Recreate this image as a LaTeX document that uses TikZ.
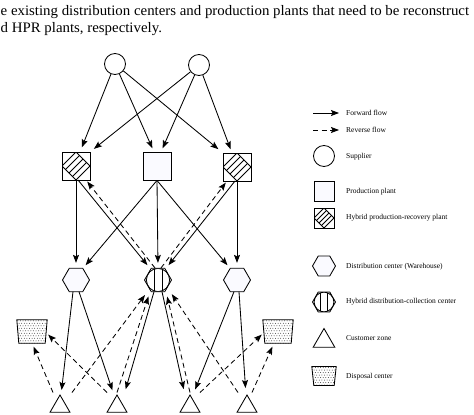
\documentclass[tikz,border=0pt]{standalone}
\usepackage{graphicx}
\usepackage{fontspec}
\setmainfont{Liberation Serif}
\usetikzlibrary{arrows.meta,shapes.geometric,calc}
\begin{document}
\begin{tikzpicture}[x=1pt,y=-1pt,
  lw/.style={line width=0.85pt},
  fwd/.style={lw, -{Stealth[length=8pt,width=6pt,inset=1.5pt]}, shorten >=#1},
  fwd/.default=4pt,
  rev/.style={fwd=#1, dash pattern=on 5pt off 3.5pt},
  rev/.default=4pt,
  supplier/.style={circle, draw, lw, fill=white, minimum size=#1, inner sep=0pt},
  supplier/.default=21pt,
  plant/.style={rectangle, draw, lw, fill=blue!2, minimum size=#1, inner sep=0pt},
  plant/.default=28pt,
  hpr/.style={plant=#1, fill=white, path picture={
    \draw[lw] (path picture bounding box.north) -- (path picture bounding box.east)
      -- (path picture bounding box.south) -- (path picture bounding box.west) -- cycle;
    \foreach \t in {0.25,0.5,0.75}{
      \draw[lw] ($(path picture bounding box.north)!\t!(path picture bounding box.east)$)
        -- ($(path picture bounding box.west)!\t!(path picture bounding box.south)$);}
  }},
  hpr/.default=28pt,
  dc/.style={regular polygon, regular polygon sides=6, draw, lw, fill=blue!2, minimum size=#1, inner sep=0pt},
  dc/.default=27pt,
  hdc/.style={dc=#1, fill=white, path picture={
    \draw[lw] (path picture bounding box.center) circle[radius={0.43*#1}];
    \draw[lw] ([xshift={-0.15*#1},yshift={-0.40*#1}]path picture bounding box.center)
      -- ([xshift={-0.15*#1},yshift={0.40*#1}]path picture bounding box.center);
    \draw[lw] ([xshift={0.15*#1},yshift={-0.40*#1}]path picture bounding box.center)
      -- ([xshift={0.15*#1},yshift={0.40*#1}]path picture bounding box.center);
  }},
  hdc/.default=27pt,
  cust/.style={regular polygon, regular polygon sides=3, draw, lw, fill=white, minimum size=#1, inner sep=0pt},
  cust/.default=23pt,
  disp/.style={rectangle, draw=none, minimum width=#1, minimum height={0.77*#1}, inner sep=0pt},
  disp/.default=30pt,
  lgtext/.style={anchor=west, font=\fontsize{7.5}{9}\selectfont, inner sep=0pt},
  toptext/.style={anchor=base west, font=\fontsize{14.5}{17}\selectfont, inner sep=0pt}
]
\useasboundingbox (0,0) rectangle (474,415);
\clip (0,0) rectangle (474,415);

% caption fragment
\node[toptext] (t1) at (0.5,15) {\scalebox{1.025}[1]{e existing distribution centers and production plants that need to be reconstruct}};
\node[toptext] (t2) at (0.5,32) {\scalebox{1.025}[1]{d HPR plants, respectively.}};

% suppliers
\node[supplier] (S1) at (115,64) {};
\node[supplier] (S2) at (199,65) {};
% plants
\node[hpr] (HL) at (76,166) {};
\node[plant] (P) at (157,166) {};
\node[hpr] (HR) at (237,167) {};
% distribution centers
\node[dc] (DL) at (76,280) {};
\node[hdc] (DH) at (158,280) {};
\node[dc] (DR) at (237,280) {};
% customers
\node[cust] (C1) at (60,406.5) {};
\node[cust] (C2) at (117,406.5) {};
\node[cust] (C3) at (190,406.5) {};
\node[cust] (C4) at (247,406.5) {};
% disposal
\node[disp] (DPL) at (32,331.5) {};
\node[disp] (DPR) at (278,331.5) {};

% legend nodes
\coordinate (f1) at (313,113);
\coordinate (f2) at (339,113);
\coordinate (r1) at (313,130);
\coordinate (r2) at (339,130);
\node[supplier=21pt] (lS) at (324,156) {};
\node[plant=20pt] (lP) at (324,191) {};
\node[hpr=20pt] (lH) at (324,218) {};
\node[dc=23pt] (lD) at (324,266) {};
\node[hdc=23pt] (lHD) at (324,302) {};
\node[cust=25pt] (lC) at (324,341) {};
\node[disp=24pt] (lX) at (324,376) {};

% disposal centre drawings (dotted trapezoids)
\foreach \n in {DPL,DPR,lX}{
  \begin{scope}
    \clip (\n.north west) -- (\n.north east) -- ($(\n.south east)+(-2,0)$) -- ($(\n.south west)+(2,0)$) -- cycle;
    \foreach \i in {0,...,12}{
      \foreach \j in {0,...,9}{
        \pgfmathsetmacro{\dx}{\i*2.6+1+mod(\j,2)*1.3}
        \pgfmathsetmacro{\dy}{\j*2.5+1}
        \fill[black!75] ($(\n.north west)+(\dx,\dy)$) circle[radius=0.5pt];
      }
    }
  \end{scope}
  \draw[lw] (\n.north west) -- (\n.north east) -- ($(\n.south east)+(-2,0)$) -- ($(\n.south west)+(2,0)$) -- cycle;
}

% supplier -> plants
\draw[fwd=5pt] (S1) -- ($(HL)+(4,-14)$);
\draw[fwd] (S1) -- ($(P)+(-3,-14)$);
\draw[fwd=6pt] (S1) -- ($(HR)+(-14,-14)$);
\draw[fwd=5pt] (S2) -- ($(HL)+(14,-14)$);
\draw[fwd] (S2) -- ($(P)+(4,-14)$);
\draw[fwd] (S2) -- ($(HR)+(-5,-14)$);

% plants -> DCs
\draw[fwd=5pt] (HL.south) -- (DL.north);
\draw[fwd] ($(HL)+(2,14)$) -- ($(DH)+(-8,-11.7)$);
\draw[rev=2pt] ($(DH)+(-3,-12)$) -- ($(HL)+(10,14)$);
\draw[fwd] (P.south) -- ($(DL)+(7,-11.7)$);
\draw[fwd=5pt] (P.south) -- (DH.north);
\draw[fwd] (P.south) -- ($(DR)+(-7,-11.7)$);
\draw[fwd=5pt] (HR.south) -- (DR.north);
\draw[fwd] ($(HR)+(-2,14)$) -- ($(DH)+(8,-11.7)$);
\draw[rev=2pt] ($(DH)+(3,-12)$) -- ($(HR)+(-10,14)$);

% DCs -> customers
\draw[fwd=5pt] ($(DL)+(-3,11.7)$) -- ($(C1)+(1,-11.5)$);
\draw[fwd=5pt] ($(DL)+(3,11.7)$) -- ($(C2)+(-3,-11.5)$);
\draw[fwd=6pt] ($(DH)+(-4,11.7)$) -- ($(C2)+(7,-11.5)$);
\draw[fwd=6pt] ($(DH)+(4,11.7)$) -- ($(C3)+(-5,-11.5)$);
\draw[fwd=6pt] ($(DR)+(-3,11.7)$) -- ($(C3)+(3,-11.5)$);
\draw[fwd=7pt] ($(DR)+(2,11.7)$) -- ($(C4)+(-1,-11.5)$);

% reverse flows customers -> hybrid DC
\draw[rev=5pt] ($(C1)+(12,-14)$) -- ($(DH)+(-10,11)$);
\draw[rev=5pt] ($(C2)+(0,-14)$) -- ($(DH)+(-8,11.7)$);
\draw[rev=5pt] ($(C3)+(0,-14)$) -- ($(DH)+(8,11.7)$);
\draw[rev=5pt] ($(C4)+(-9,-14)$) -- ($(DH)+(11,10)$);

% reverse flows customers -> disposal
\draw[rev=4pt] ($(C1)+(-7,-14)$) -- ($(DPL)+(0,11.5)$);
\draw[rev=3pt] ($(C2)+(-10,-14)$) -- ($(DPL)+(14,1)$);
\draw[rev=3pt] ($(C3)+(10,-14)$) -- ($(DPR)+(-14,1)$);
\draw[rev=4pt] ($(C4)+(5,-14)$) -- ($(DPR)+(-4,11.5)$);

% legend
\draw[fwd=0pt] (f1) -- (f2);
\draw[rev=0pt] (r1) -- (r2);
\node[lgtext] (lf) at (346,113) {Forward flow};
\node[lgtext] (lr) at (346,130) {Reverse flow};
\node[lgtext] (lSt) at (346,157) {Supplier};
\node[lgtext] (lPt) at (346,192) {Production plant};
\node[lgtext] (lHt) at (346,218) {Hybrid production-recovery plant};
\node[lgtext] (lDt) at (346,267) {Distribution center (Warehouse)};
\node[lgtext] (lHDt) at (346,302) {Hybrid distribution-collection center};
\node[lgtext] (lCt) at (346,338) {Customer zone};
\node[lgtext] (lXt) at (346,377) {Disposal center};
\end{tikzpicture}
\end{document}
